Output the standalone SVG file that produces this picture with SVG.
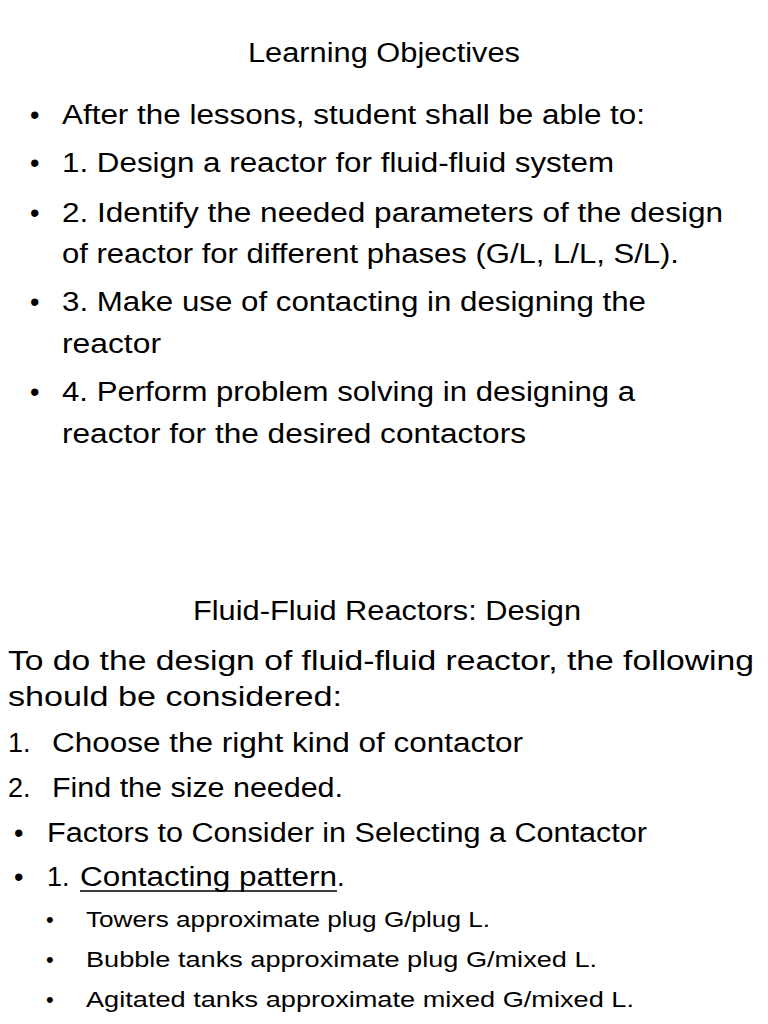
<svg xmlns="http://www.w3.org/2000/svg" width="768" height="1024" viewBox="0 0 768 1024">
<style>
text{font-family:"Liberation Sans","Open Sans",sans-serif;fill:#000;}
.b{font-size:27px;}
.s{font-size:22px;}
</style>
<rect width="768" height="1024" fill="#fff"/>
<g id="slide1">
<text class="b" x="248" y="62" textLength="272" lengthAdjust="spacingAndGlyphs">Learning Objectives</text>
<g class="b">
<text x="30" y="124">•</text><text x="62" y="124" textLength="583" lengthAdjust="spacingAndGlyphs">After the lessons, student shall be able to:</text>
<text x="30" y="172">•</text><text x="62" y="172" textLength="552" lengthAdjust="spacingAndGlyphs">1. Design a reactor for fluid-fluid system</text>
<text x="30" y="222">•</text><text x="62" y="222" textLength="661" lengthAdjust="spacingAndGlyphs">2. Identify the needed parameters of the design</text>
<text x="62" y="263" textLength="617" lengthAdjust="spacingAndGlyphs">of reactor for different phases (G/L, L/L, S/L).</text>
<text x="30" y="311">•</text><text x="62" y="311" textLength="584" lengthAdjust="spacingAndGlyphs">3. Make use of contacting in designing the</text>
<text x="62" y="353" textLength="99" lengthAdjust="spacingAndGlyphs">reactor</text>
<text x="30" y="401">•</text><text x="62" y="401" textLength="573" lengthAdjust="spacingAndGlyphs">4. Perform problem solving in designing a</text>
<text x="62" y="443" textLength="464" lengthAdjust="spacingAndGlyphs">reactor for the desired contactors</text>
</g>
</g>
<g id="slide2">
<text class="b" x="193" y="620" textLength="388" lengthAdjust="spacingAndGlyphs">Fluid-Fluid  Reactors: Design</text>
<g class="b">
<text x="8" y="670" textLength="746" lengthAdjust="spacingAndGlyphs">To do the design of fluid-fluid reactor, the following</text>
<text x="8" y="706" textLength="334" lengthAdjust="spacingAndGlyphs">should be considered:</text>
<text x="8" y="752">1.</text><text x="52" y="752" textLength="471" lengthAdjust="spacingAndGlyphs">Choose the right kind of contactor</text>
<text x="8" y="797">2.</text><text x="52" y="797" textLength="291" lengthAdjust="spacingAndGlyphs">Find the size needed.</text>
<text x="14" y="842">•</text><text x="47" y="842" textLength="600" lengthAdjust="spacingAndGlyphs">Factors to Consider in Selecting a Contactor</text>
<text x="14" y="886">•</text><text x="47" y="886">1.</text>
<text x="80" y="886" textLength="257" lengthAdjust="spacingAndGlyphs">Contacting pattern</text><text x="337" y="886">.</text>
</g>
<line x1="80" y1="891" x2="337" y2="891" stroke="#000" stroke-width="1.6"/>
<g class="s">
<text x="46" y="927">•</text><text x="86" y="927" textLength="404" lengthAdjust="spacingAndGlyphs">Towers approximate plug G/plug L.</text>
<text x="46" y="967">•</text><text x="86" y="967" textLength="511" lengthAdjust="spacingAndGlyphs">Bubble tanks approximate plug G/mixed L.</text>
<text x="46" y="1007">•</text><text x="86" y="1007" textLength="548" lengthAdjust="spacingAndGlyphs">Agitated tanks approximate mixed G/mixed L.</text>
</g>
</g>
</svg>
